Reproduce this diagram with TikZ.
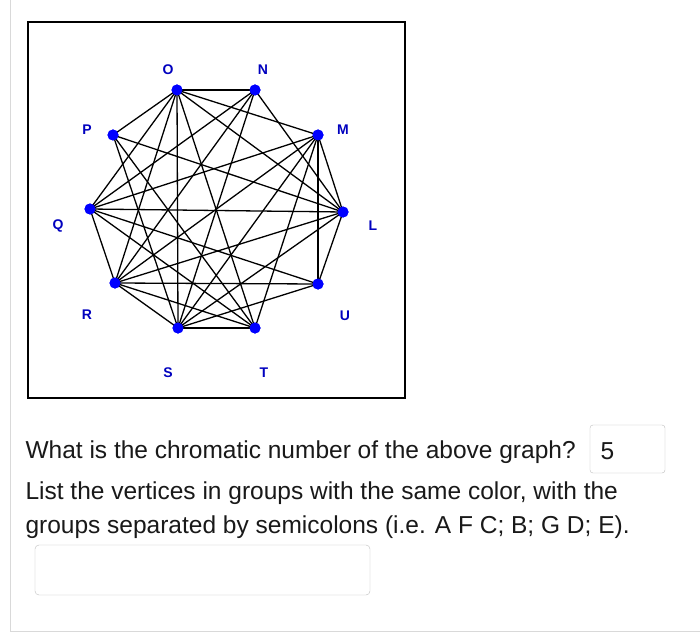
\documentclass[tikz,border=0pt]{standalone}
\usepackage{fontspec}
\setmainfont{Liberation Sans}
\begin{document}
\begin{tikzpicture}[x=1pt,y=-1pt,
  vtx/.style={circle,fill=blue,inner sep=0pt,minimum size=11pt},
  lbl/.style={font=\fontsize{14}{14}\selectfont\bfseries,text=blue!75!black},
  edge/.style={line width=1.3pt,black},
  qtext/.style={font=\fontsize{24.5}{24.5}\selectfont,anchor=west,text=black!90}]
\useasboundingbox (0,0) rectangle (700,636);
\fill[white] (0,0) rectangle (700,636);
\draw[black!15,line width=1pt] (10,-2) -- (10,631) -- (702,631);
\draw[line width=1.3pt] (28,22) rectangle (405,398) ;
\node[vtx] (O) at (177,90) {};
\node[vtx] (N) at (255,90) {};
\node[vtx] (M) at (318,135) {};
\node[vtx] (L) at (343,212) {};
\node[vtx] (U) at (318,284) {};
\node[vtx] (T) at (255,328) {};
\node[vtx] (S) at (178,328) {};
\node[vtx] (R) at (115,283) {};
\node[vtx] (Q) at (90,209) {};
\node[vtx] (P) at (113,135) {};
\node[lbl] (lO) at (168,70) {O};
\node[lbl] (lN) at (263,70) {N};
\node[lbl] (lM) at (343,130) {M};
\node[lbl] (lL) at (373,226) {L};
\node[lbl] (lU) at (345,316) {U};
\node[lbl] (lT) at (264,373) {T};
\node[lbl] (lS) at (168,373) {S};
\node[lbl] (lR) at (87,315) {R};
\node[lbl] (lQ) at (58,226) {Q};
\node[lbl] (lP) at (87,130) {P};
\foreach \a/\b in {O/N,O/S,O/P,O/Q,O/R,O/T,O/M,O/L,
  N/Q,N/R,N/S,N/L,
  M/Q,M/R,M/S,M/T,M/U,M/L,
  L/Q,L/P,L/R,L/S,L/U,
  U/R,U/S,U/Q,
  T/S,T/R,T/Q,T/P,
  S/R,S/P,
  R/Q}
  \draw[edge] (\a.center) -- (\b.center);
\foreach \v in {O,N,M,L,U,T,S,R,Q,P} \fill[blue] (\v) circle (5.5pt);
\node[qtext] (q1) at (22,452) {What is the chromatic number of the above graph?};
\draw[black!25,rounded corners=3pt] (590,425) rectangle (665,473);
\node[qtext] (ans) at (597,451) {5};
\node[qtext] (q2) at (22,493) {List the vertices in groups with the same color, with the};
\node[qtext] (q3) at (22,527) {groups separated by semicolons (i.e. A F C; B; G D; E).};
\draw[black!25,rounded corners=4pt] (35,545) rectangle (370,595);
\end{tikzpicture}
\end{document}
